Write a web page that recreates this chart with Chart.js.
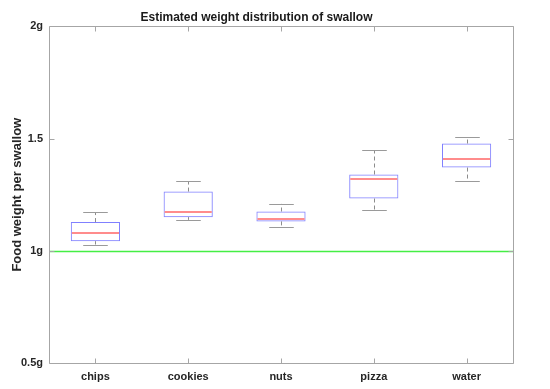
<!DOCTYPE html>
<html>
<head>
<meta charset="utf-8">
<script src="https://cdn.jsdelivr.net/npm/chart.js@4/dist/chart.umd.min.js"></script>
<style>
html,body{margin:0;padding:0;background:#fff;}
#wrap{width:550px;height:389px;}
</style>
</head>
<body>
<div id="wrap"><canvas id="c" width="550" height="389"></canvas></div>
<script>
const categories = ['chips', 'cookies', 'nuts', 'pizza', 'water'];
const whiskerLow = [1.028, 1.138, 1.105, 1.181, 1.310];
const q1 = [1.043, 1.150, 1.131, 1.233, 1.371];
const median = [1.079, 1.171, 1.140, 1.318, 1.409];
const q3 = [1.128, 1.264, 1.175, 1.340, 1.478];
const whiskerHigh = [1.172, 1.310, 1.209, 1.449, 1.505];
const yTickValues = [0.5, 1, 1.5, 2];
const yTickLabels = ['0.5g', '1g', '1.5', '2g'];
const referenceLevel = 1;

const FONT = '"Liberation Sans", Arial, sans-serif';
const AXIS_GRAY = '#a6a6a6';

const boxPlugin = {
  id: 'boxExtras',
  afterDatasetsDraw(chart) {
    const ctx = chart.ctx;
    const xs = chart.scales.x, ys = chart.scales.y;
    const meta = chart.getDatasetMeta(0);
    ctx.save();
    ctx.lineWidth = 1;
    // whiskers (dashed) and caps
    categories.forEach((c, i) => {
      const bar = meta.data[i];
      const xc = Math.round(xs.getPixelForValue(i)) + 0.5;
      const capHalf = bar.width / 4;
      ctx.strokeStyle = '#8c8c8c';
      ctx.setLineDash([4, 3]);
      ctx.beginPath();
      ctx.moveTo(xc, ys.getPixelForValue(q3[i]));
      ctx.lineTo(xc, ys.getPixelForValue(whiskerHigh[i]));
      ctx.moveTo(xc, ys.getPixelForValue(q1[i]));
      ctx.lineTo(xc, ys.getPixelForValue(whiskerLow[i]));
      ctx.stroke();
      ctx.setLineDash([]);
      ctx.strokeStyle = '#9a9a9a';
      ctx.beginPath();
      const yh = Math.round(ys.getPixelForValue(whiskerHigh[i])) + 0.5;
      const yl = Math.round(ys.getPixelForValue(whiskerLow[i])) + 0.5;
      ctx.moveTo(xc - capHalf, yh); ctx.lineTo(xc + capHalf, yh);
      ctx.moveTo(xc - capHalf, yl); ctx.lineTo(xc + capHalf, yl);
      ctx.stroke();
    });
    // medians
    ctx.setLineDash([]);
    ctx.strokeStyle = 'rgb(255,140,140)';
    ctx.lineWidth = 2;
    ctx.beginPath();
    categories.forEach((c, i) => {
      const bar = meta.data[i];
      const xc = xs.getPixelForValue(i);
      const halfW = bar.width / 2;
      const ym = Math.round(ys.getPixelForValue(median[i]));
      ctx.moveTo(xc - halfW + 1, ym); ctx.lineTo(xc + halfW - 1, ym);
    });
    ctx.stroke();
    // reference line
    const yr = Math.round(ys.getPixelForValue(referenceLevel)) + 0.5;
    ctx.strokeStyle = '#44ee44';
    ctx.lineWidth = 1.5;
    ctx.beginPath();
    ctx.moveTo(chart.chartArea.left, yr);
    ctx.lineTo(chart.chartArea.right, yr);
    ctx.stroke();
    // box frame + inward ticks
    const a = chart.chartArea;
    ctx.strokeStyle = AXIS_GRAY;
    ctx.lineWidth = 1;
    ctx.beginPath();
    const L = Math.round(a.left) + 0.5, R = Math.round(a.right) + 0.5;
    const T = Math.round(a.top) + 0.5, B = Math.round(a.bottom) + 0.5;
    ctx.rect(L, T, R - L, B - T);
    categories.forEach((c, i) => {
      const x = Math.round(xs.getPixelForValue(i)) + 0.5;
      ctx.moveTo(x, T); ctx.lineTo(x, T + 5);
      ctx.moveTo(x, B); ctx.lineTo(x, B - 5);
    });
    yTickValues.forEach(v => {
      const y = Math.round(ys.getPixelForValue(v)) + 0.5;
      ctx.moveTo(L, y); ctx.lineTo(L + 5, y);
      ctx.moveTo(R, y); ctx.lineTo(R - 5, y);
    });
    ctx.stroke();
    ctx.restore();
  }
};

new Chart(document.getElementById('c'), {
  type: 'bar',
  data: {
    labels: categories,
    datasets: [{
      data: categories.map((c, i) => [q1[i], q3[i]]),
      backgroundColor: 'rgba(0,0,0,0)',
      borderColor: '#8080ff',
      borderWidth: 1,
      borderSkipped: false,
      barPercentage: 0.53,
      categoryPercentage: 1.0
    }]
  },
  options: {
    responsive: false,
    animation: false,
    devicePixelRatio: 1,
    layout: { padding: { left: 0, right: 37, top: 0, bottom: 0 } },
    plugins: {
      legend: { display: false },
      tooltip: { enabled: false },
      title: {
        display: true,
        text: 'Estimated weight distribution of swallow',
        color: '#1a1a1a',
        font: { family: FONT, size: 12, weight: 'bold' },
        padding: { top: 10, bottom: 2 }
      }
    },
    scales: {
      x: {
        type: 'category',
        offset: true,
        grid: { display: false, drawTicks: false },
        border: { display: false },
        ticks: {
          color: '#262626',
          font: { family: FONT, size: 11, weight: 'bold' },
          padding: 7,
          maxRotation: 0
        },
        afterFit(s) { s.height = 26; }
      },
      y: {
        min: 0.5, max: 2,
        grid: { display: false, drawTicks: false },
        border: { display: false },
        afterBuildTicks(s) { s.ticks = yTickValues.map(v => ({ value: v })); },
        ticks: {
          color: '#262626',
          font: { family: FONT, size: 11, weight: 'bold' },
          padding: 6,
          callback(v) { const k = yTickValues.indexOf(v); return k >= 0 ? yTickLabels[k] : ''; }
        },
        title: {
          display: true,
          text: 'Food weight per swallow',
          color: '#262626',
          font: { family: FONT, size: 13, weight: 'bold' },
          padding: { top: 10, bottom: 4 }
        },
        afterFit(s) { s.width = 49; }
      }
    }
  },
  plugins: [boxPlugin]
});
</script>
</body>
</html>
